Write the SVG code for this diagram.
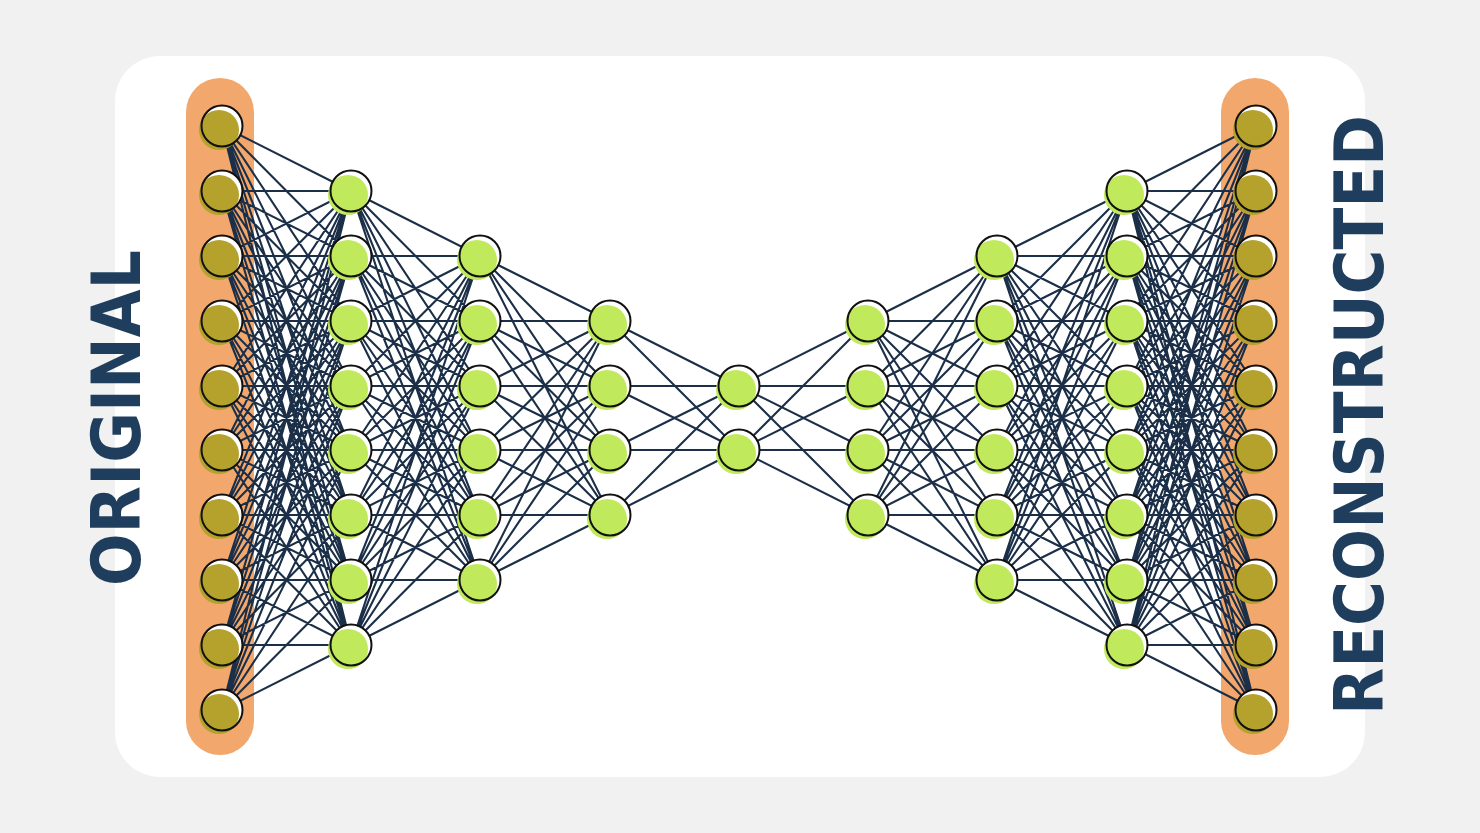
<svg xmlns="http://www.w3.org/2000/svg" xmlns:xlink="http://www.w3.org/1999/xlink" width="1480" height="833" viewBox="0 0 1480 833">
<style>
.lbl{font-family:"DejaVu Sans","Liberation Sans",Arial,sans-serif;font-weight:bold;fill:#1f3d5c}
.edges{fill:none;stroke:#1b2f48;stroke-width:2.1;stroke-linecap:round}
</style>
<defs>
<g id="olv"><circle r="20" fill="#fff"/><circle cx="-3" cy="4" r="20" fill="#b4a22c"/><circle r="20.5" fill="none" stroke="#111" stroke-width="2"/></g>
<g id="grn"><circle r="20" fill="#fff"/><circle cx="-3" cy="4" r="20" fill="#c0ea5c"/><circle r="20.5" fill="none" stroke="#111" stroke-width="2"/></g>
</defs>
<rect width="1480" height="833" fill="#f1f1f1"/>
<rect x="115" y="56" width="1250" height="721" rx="45" fill="#fff"/>
<rect x="186" y="78" width="68" height="677" rx="34" fill="#f2a76c"/>
<rect x="1221" y="78" width="68" height="677" rx="34" fill="#f2a76c"/>
<text class="lbl" transform="translate(140,418) rotate(-90)" text-anchor="middle" font-size="68" textLength="336" lengthAdjust="spacingAndGlyphs">ORIGINAL</text>
<text class="lbl" transform="translate(1383,415) rotate(-90)" text-anchor="middle" font-size="67" textLength="600" lengthAdjust="spacingAndGlyphs">RECONSTRUCTED</text>
<g id="connectors" class="edges">
<path d="M222 126L351 191M222 126L351 256M222 126L351 321M222 126L351 386M222 126L351 450M222 126L351 515M222 126L351 580M222 126L351 645
M222 191L351 191M222 191L351 256M222 191L351 321M222 191L351 386M222 191L351 450M222 191L351 515M222 191L351 580M222 191L351 645
M222 256L351 191M222 256L351 256M222 256L351 321M222 256L351 386M222 256L351 450M222 256L351 515M222 256L351 580M222 256L351 645
M222 321L351 191M222 321L351 256M222 321L351 321M222 321L351 386M222 321L351 450M222 321L351 515M222 321L351 580M222 321L351 645
M222 386L351 191M222 386L351 256M222 386L351 321M222 386L351 386M222 386L351 450M222 386L351 515M222 386L351 580M222 386L351 645
M222 450L351 191M222 450L351 256M222 450L351 321M222 450L351 386M222 450L351 450M222 450L351 515M222 450L351 580M222 450L351 645
M222 515L351 191M222 515L351 256M222 515L351 321M222 515L351 386M222 515L351 450M222 515L351 515M222 515L351 580M222 515L351 645
M222 580L351 191M222 580L351 256M222 580L351 321M222 580L351 386M222 580L351 450M222 580L351 515M222 580L351 580M222 580L351 645
M222 645L351 191M222 645L351 256M222 645L351 321M222 645L351 386M222 645L351 450M222 645L351 515M222 645L351 580M222 645L351 645
M222 710L351 191M222 710L351 256M222 710L351 321M222 710L351 386M222 710L351 450M222 710L351 515M222 710L351 580M222 710L351 645"/>
<path d="M351 191L480 256M351 191L480 321M351 191L480 386M351 191L480 450M351 191L480 515M351 191L480 580
M351 256L480 256M351 256L480 321M351 256L480 386M351 256L480 450M351 256L480 515M351 256L480 580
M351 321L480 256M351 321L480 321M351 321L480 386M351 321L480 450M351 321L480 515M351 321L480 580
M351 386L480 256M351 386L480 321M351 386L480 386M351 386L480 450M351 386L480 515M351 386L480 580
M351 450L480 256M351 450L480 321M351 450L480 386M351 450L480 450M351 450L480 515M351 450L480 580
M351 515L480 256M351 515L480 321M351 515L480 386M351 515L480 450M351 515L480 515M351 515L480 580
M351 580L480 256M351 580L480 321M351 580L480 386M351 580L480 450M351 580L480 515M351 580L480 580
M351 645L480 256M351 645L480 321M351 645L480 386M351 645L480 450M351 645L480 515M351 645L480 580"/>
<path d="M480 256L610 321M480 256L610 386M480 256L610 450M480 256L610 515
M480 321L610 321M480 321L610 386M480 321L610 450M480 321L610 515
M480 386L610 321M480 386L610 386M480 386L610 450M480 386L610 515
M480 450L610 321M480 450L610 386M480 450L610 450M480 450L610 515
M480 515L610 321M480 515L610 386M480 515L610 450M480 515L610 515
M480 580L610 321M480 580L610 386M480 580L610 450M480 580L610 515"/>
<path d="M610 321L739 386M610 321L739 450M610 386L739 386M610 386L739 450M610 450L739 386M610 450L739 450M610 515L739 386M610 515L739 450"/>
<path d="M868 321L739 386M868 321L739 450M868 386L739 386M868 386L739 450M868 450L739 386M868 450L739 450M868 515L739 386M868 515L739 450"/>
<path d="M997 256L868 321M997 256L868 386M997 256L868 450M997 256L868 515
M997 321L868 321M997 321L868 386M997 321L868 450M997 321L868 515
M997 386L868 321M997 386L868 386M997 386L868 450M997 386L868 515
M997 450L868 321M997 450L868 386M997 450L868 450M997 450L868 515
M997 515L868 321M997 515L868 386M997 515L868 450M997 515L868 515
M997 580L868 321M997 580L868 386M997 580L868 450M997 580L868 515"/>
<path d="M1127 191L997 256M1127 191L997 321M1127 191L997 386M1127 191L997 450M1127 191L997 515M1127 191L997 580
M1127 256L997 256M1127 256L997 321M1127 256L997 386M1127 256L997 450M1127 256L997 515M1127 256L997 580
M1127 321L997 256M1127 321L997 321M1127 321L997 386M1127 321L997 450M1127 321L997 515M1127 321L997 580
M1127 386L997 256M1127 386L997 321M1127 386L997 386M1127 386L997 450M1127 386L997 515M1127 386L997 580
M1127 450L997 256M1127 450L997 321M1127 450L997 386M1127 450L997 450M1127 450L997 515M1127 450L997 580
M1127 515L997 256M1127 515L997 321M1127 515L997 386M1127 515L997 450M1127 515L997 515M1127 515L997 580
M1127 580L997 256M1127 580L997 321M1127 580L997 386M1127 580L997 450M1127 580L997 515M1127 580L997 580
M1127 645L997 256M1127 645L997 321M1127 645L997 386M1127 645L997 450M1127 645L997 515M1127 645L997 580"/>
<path d="M1256 126L1127 191M1256 126L1127 256M1256 126L1127 321M1256 126L1127 386M1256 126L1127 450M1256 126L1127 515M1256 126L1127 580M1256 126L1127 645
M1256 191L1127 191M1256 191L1127 256M1256 191L1127 321M1256 191L1127 386M1256 191L1127 450M1256 191L1127 515M1256 191L1127 580M1256 191L1127 645
M1256 256L1127 191M1256 256L1127 256M1256 256L1127 321M1256 256L1127 386M1256 256L1127 450M1256 256L1127 515M1256 256L1127 580M1256 256L1127 645
M1256 321L1127 191M1256 321L1127 256M1256 321L1127 321M1256 321L1127 386M1256 321L1127 450M1256 321L1127 515M1256 321L1127 580M1256 321L1127 645
M1256 386L1127 191M1256 386L1127 256M1256 386L1127 321M1256 386L1127 386M1256 386L1127 450M1256 386L1127 515M1256 386L1127 580M1256 386L1127 645
M1256 450L1127 191M1256 450L1127 256M1256 450L1127 321M1256 450L1127 386M1256 450L1127 450M1256 450L1127 515M1256 450L1127 580M1256 450L1127 645
M1256 515L1127 191M1256 515L1127 256M1256 515L1127 321M1256 515L1127 386M1256 515L1127 450M1256 515L1127 515M1256 515L1127 580M1256 515L1127 645
M1256 580L1127 191M1256 580L1127 256M1256 580L1127 321M1256 580L1127 386M1256 580L1127 450M1256 580L1127 515M1256 580L1127 580M1256 580L1127 645
M1256 645L1127 191M1256 645L1127 256M1256 645L1127 321M1256 645L1127 386M1256 645L1127 450M1256 645L1127 515M1256 645L1127 580M1256 645L1127 645
M1256 710L1127 191M1256 710L1127 256M1256 710L1127 321M1256 710L1127 386M1256 710L1127 450M1256 710L1127 515M1256 710L1127 580M1256 710L1127 645"/>
</g>
<g id="layer0">
<g id="n0_0"><use href="#olv" x="222" y="126"/></g>
<g id="n0_1"><use href="#olv" x="222" y="191"/></g>
<g id="n0_2"><use href="#olv" x="222" y="256"/></g>
<g id="n0_3"><use href="#olv" x="222" y="321"/></g>
<g id="n0_4"><use href="#olv" x="222" y="386"/></g>
<g id="n0_5"><use href="#olv" x="222" y="450"/></g>
<g id="n0_6"><use href="#olv" x="222" y="515"/></g>
<g id="n0_7"><use href="#olv" x="222" y="580"/></g>
<g id="n0_8"><use href="#olv" x="222" y="645"/></g>
<g id="n0_9"><use href="#olv" x="222" y="710"/></g>
</g>
<g id="layer1">
<g id="n1_0"><use href="#grn" x="351" y="191"/></g>
<g id="n1_1"><use href="#grn" x="351" y="256"/></g>
<g id="n1_2"><use href="#grn" x="351" y="321"/></g>
<g id="n1_3"><use href="#grn" x="351" y="386"/></g>
<g id="n1_4"><use href="#grn" x="351" y="450"/></g>
<g id="n1_5"><use href="#grn" x="351" y="515"/></g>
<g id="n1_6"><use href="#grn" x="351" y="580"/></g>
<g id="n1_7"><use href="#grn" x="351" y="645"/></g>
</g>
<g id="layer2">
<g id="n2_0"><use href="#grn" x="480" y="256"/></g>
<g id="n2_1"><use href="#grn" x="480" y="321"/></g>
<g id="n2_2"><use href="#grn" x="480" y="386"/></g>
<g id="n2_3"><use href="#grn" x="480" y="450"/></g>
<g id="n2_4"><use href="#grn" x="480" y="515"/></g>
<g id="n2_5"><use href="#grn" x="480" y="580"/></g>
</g>
<g id="layer3">
<g id="n3_0"><use href="#grn" x="610" y="321"/></g>
<g id="n3_1"><use href="#grn" x="610" y="386"/></g>
<g id="n3_2"><use href="#grn" x="610" y="450"/></g>
<g id="n3_3"><use href="#grn" x="610" y="515"/></g>
</g>
<g id="layer4">
<g id="n4_0"><use href="#grn" x="739" y="386"/></g>
<g id="n4_1"><use href="#grn" x="739" y="450"/></g>
</g>
<g id="layer5">
<g id="n5_0"><use href="#grn" x="868" y="321"/></g>
<g id="n5_1"><use href="#grn" x="868" y="386"/></g>
<g id="n5_2"><use href="#grn" x="868" y="450"/></g>
<g id="n5_3"><use href="#grn" x="868" y="515"/></g>
</g>
<g id="layer6">
<g id="n6_0"><use href="#grn" x="997" y="256"/></g>
<g id="n6_1"><use href="#grn" x="997" y="321"/></g>
<g id="n6_2"><use href="#grn" x="997" y="386"/></g>
<g id="n6_3"><use href="#grn" x="997" y="450"/></g>
<g id="n6_4"><use href="#grn" x="997" y="515"/></g>
<g id="n6_5"><use href="#grn" x="997" y="580"/></g>
</g>
<g id="layer7">
<g id="n7_0"><use href="#grn" x="1127" y="191"/></g>
<g id="n7_1"><use href="#grn" x="1127" y="256"/></g>
<g id="n7_2"><use href="#grn" x="1127" y="321"/></g>
<g id="n7_3"><use href="#grn" x="1127" y="386"/></g>
<g id="n7_4"><use href="#grn" x="1127" y="450"/></g>
<g id="n7_5"><use href="#grn" x="1127" y="515"/></g>
<g id="n7_6"><use href="#grn" x="1127" y="580"/></g>
<g id="n7_7"><use href="#grn" x="1127" y="645"/></g>
</g>
<g id="layer8">
<g id="n8_0"><use href="#olv" x="1256" y="126"/></g>
<g id="n8_1"><use href="#olv" x="1256" y="191"/></g>
<g id="n8_2"><use href="#olv" x="1256" y="256"/></g>
<g id="n8_3"><use href="#olv" x="1256" y="321"/></g>
<g id="n8_4"><use href="#olv" x="1256" y="386"/></g>
<g id="n8_5"><use href="#olv" x="1256" y="450"/></g>
<g id="n8_6"><use href="#olv" x="1256" y="515"/></g>
<g id="n8_7"><use href="#olv" x="1256" y="580"/></g>
<g id="n8_8"><use href="#olv" x="1256" y="645"/></g>
<g id="n8_9"><use href="#olv" x="1256" y="710"/></g>
</g>
</svg>
